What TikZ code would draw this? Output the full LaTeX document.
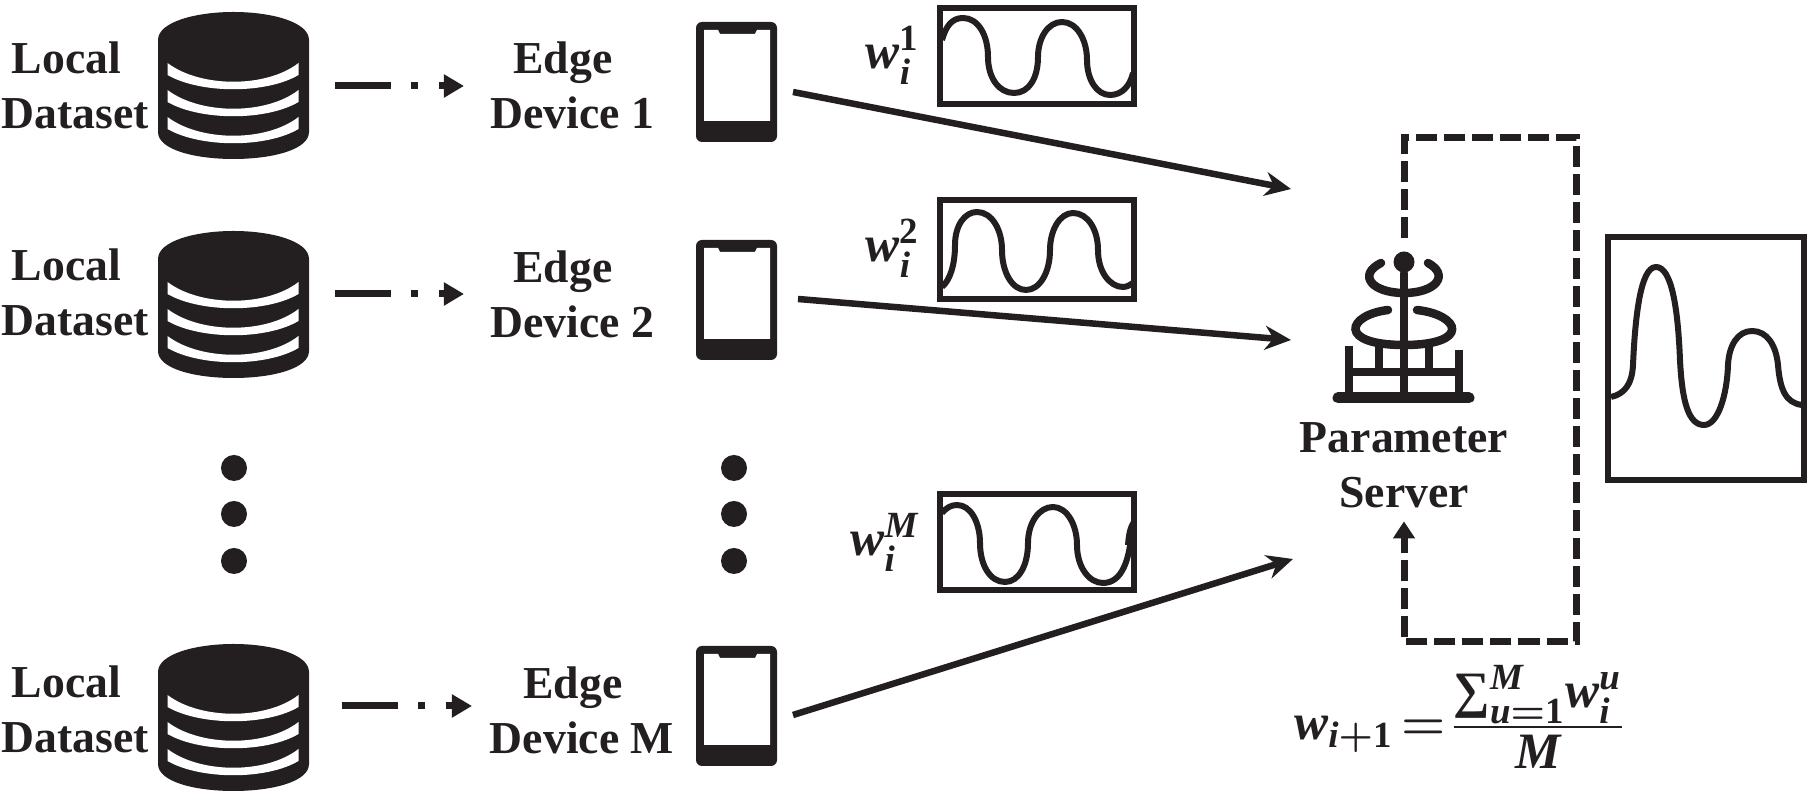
\documentclass[tikz,border=0pt]{standalone}
\usepackage{fontspec}
\usepackage{amsmath}
\setmainfont{Liberation Serif}
\usetikzlibrary{arrows.meta}
\definecolor{inkblack}{HTML}{231F20}
\DeclareMathSizes{14.5}{14.5}{10.5}{8}
\newcommand{\mvar}[1]{\text{\bfseries\itshape #1}}
\newcommand{\mnum}[1]{\text{\bfseries #1}}
\tikzset{
  lbl/.style={align=center, inner sep=0pt, text=inkblack, font=\fontsize{13}{15.6}\selectfont\bfseries},
  mathlbl/.style={inner sep=0pt, text=inkblack, font=\fontsize{14.5}{17}\selectfont\boldmath},
  wavebox/.style={draw=inkblack, line width=0.06cm},
  wavecurve/.style={draw=inkblack, line width=0.06cm, line join=round},
  flowarrow/.style={-{Stealth[length=0.26cm,width=0.24cm]}, draw=inkblack, line width=0.065cm},
  dotarrow/.style={-{Triangle[length=0.2cm,width=0.22cm]}, draw=inkblack, line width=0.07cm, dash pattern=on 0.56cm off 0.2cm on 0.07cm off 0.21cm},
  loopline/.style={-{Triangle[length=0.17cm,width=0.21cm]}, draw=inkblack, line width=0.07cm, dash pattern=on 0.21cm off 0.07cm},
  iconline/.style={draw=inkblack, line width=0.085cm, line cap=round},
  bigdot/.style={circle, fill=inkblack, minimum size=0.26cm, inner sep=0pt},
  dbicon/.pic={
    \fill[inkblack] (-75.5,28) .. controls (-75.5,10) and (-38,0) .. (0,0)
      .. controls (38,0) and (75.5,10) .. (75.5,28) -- (75.5,120)
      .. controls (75.5,138) and (38,147) .. (0,147)
      .. controls (-38,147) and (-75.5,138) .. (-75.5,120) -- cycle;
    \foreach \dy in {0,27,54}
      \fill[white] (-66,51+\dy) .. controls (-33,76+\dy) and (33,76+\dy) .. (65,51+\dy)
        -- (65,63+\dy) .. controls (33,82+\dy) and (-33,82+\dy) .. (-66,63+\dy) -- cycle;
  },
  phoneicon/.pic={
    \fill[inkblack, rounded corners=0.06cm] (0,0) rectangle (81,120);
    \fill[white] (8,8) -- (22,8) -- (24,12) -- (59,12) -- (61,8) -- (74,8) -- (74,99) -- (8,99) -- cycle;
  }
}
\begin{document}
\begin{tikzpicture}[x=0.01cm, y=-0.01cm, line join=miter]
  \useasboundingbox (0,0) rectangle (1808,792);
  % databases
  \pic at (233.5,12) {dbicon};
  \pic at (233.5,231) {dbicon};
  \pic at (233.5,644) {dbicon};
  \node[lbl] (data1) at (75,85) {Local\hspace*{0.17cm}\\Dataset};
  \node[lbl] (data2) at (75,292) {Local\hspace*{0.17cm}\\Dataset};
  \node[lbl] (dataM) at (75,709) {Local\hspace*{0.17cm}\\Dataset};
  % devices
  \node[lbl] (edge1) at (572,85) {Edge\hspace*{0.18cm}\\Device 1};
  \node[lbl] (edge2) at (572,294) {Edge\hspace*{0.18cm}\\Device 2};
  \node[lbl] (edgeM) at (582,710) {Edge\hspace*{0.18cm}\\Device M};
  \pic at (696,22) {phoneicon};
  \pic at (696,240) {phoneicon};
  \pic at (696,646) {phoneicon};
  % local data to device
  \coordinate (dbout1) at (335,86);
  \coordinate (dbout2) at (335,294);
  \coordinate (dboutM) at (342,706);
  \coordinate (edgein1) at (464,86);
  \coordinate (edgein2) at (464,294);
  \coordinate (edgeinM) at (472,706);
  \draw[dotarrow] (dbout1) -- (edgein1);
  \draw[dotarrow] (dbout2) -- (edgein2);
  \draw[dotarrow] (dboutM) -- (edgeinM);
  % ellipsis
  \node[bigdot] (dotA) at (234,468) {};
  \node[bigdot] (dotB) at (234,514) {};
  \node[bigdot] (dotC) at (234,561) {};
  \node[bigdot] (dotD) at (734,468) {};
  \node[bigdot] (dotE) at (734,514) {};
  \node[bigdot] (dotF) at (734,561) {};
  % local weights
  \node[mathlbl] (w1) at (893,55) {$\mvar{w}_{\mvar{i}}^{\mnum{1}}$};
  \node[mathlbl] (w2) at (893,248) {$\mvar{w}_{\mvar{i}}^{\mnum{2}}$};
  \node[mathlbl] (wM) at (885,542) {$\mvar{w}_{\mvar{i}}^{\mvar{M}}$};
  \draw[wavebox] (940,8) rectangle (1134,104);
  \draw[wavebox] (940,200) rectangle (1134,299);
  \draw[wavebox] (940,494) rectangle (1134,590);
  \draw[wavecurve] (942,40) .. controls (946,26) and (952,18) .. (963,18)
    .. controls (978,18) and (988,35) .. (988,57) .. controls (988,78) and (999,93) .. (1014,93)
    .. controls (1029,93) and (1038,78) .. (1038,57) .. controls (1038,38) and (1048,22) .. (1062,22)
    .. controls (1077,22) and (1087,40) .. (1087,60) .. controls (1087,80) and (1097,95) .. (1110,95)
    .. controls (1122,95) and (1130,86) .. (1133,73);
  \draw[wavecurve] (942,287) .. controls (950,280) and (955,265) .. (955,245)
    .. controls (955,225) and (965,212) .. (977,212) .. controls (992,212) and (1002,230) .. (1002,250)
    .. controls (1002,272) and (1012,290) .. (1026,290) .. controls (1040,290) and (1050,272) .. (1050,250)
    .. controls (1050,230) and (1060,213) .. (1073,213) .. controls (1088,213) and (1098,230) .. (1098,250)
    .. controls (1098,272) and (1110,287) .. (1123,287) .. controls (1127,287) and (1130,285) .. (1133,283);
  \draw[wavecurve] (942,513) .. controls (946,508) and (951,505) .. (957,505)
    .. controls (971,505) and (980,523) .. (980,543) .. controls (980,565) and (990,582) .. (1005,582)
    .. controls (1019,582) and (1028,565) .. (1028,543) .. controls (1028,523) and (1039,507) .. (1053,507)
    .. controls (1067,507) and (1077,525) .. (1077,545) .. controls (1077,567) and (1089,583) .. (1103,583)
    .. controls (1122,583) and (1130,560) .. (1132,527);
  \fill[inkblack] (1125,545) .. controls (1126,532) and (1128,523) .. (1134,518) -- (1134,545) -- cycle;
  % uploads to the server
  \coordinate (phone1) at (793,92);
  \coordinate (phone2) at (798,299);
  \coordinate (phoneM) at (793,715);
  \coordinate (srvin1) at (1291,189);
  \coordinate (srvin2) at (1291,340);
  \coordinate (srvinM) at (1293,559);
  \draw[flowarrow] (phone1) -- (srvin1);
  \draw[flowarrow] (phone2) -- (srvin2);
  \draw[flowarrow] (phoneM) -- (srvinM);
  % server tower
  \node[circle, fill=inkblack, minimum size=0.21cm, inner sep=0pt] (ball) at (1404,262) {};
  \draw[iconline] (ball) -- (1404,398);
  \draw[iconline] (1381,263) .. controls (1357,275) and (1372,293) .. (1404,293)
    .. controls (1436,293) and (1450,275) .. (1428,263);
  \draw[iconline] (1388,310) .. controls (1347,315) and (1337,345) .. (1404,345)
    .. controls (1471,345) and (1461,315) .. (1417,310);
  \draw[iconline, line cap=butt] (1349,346) -- (1349,398);
  \draw[iconline, line cap=butt] (1459,350) -- (1459,398);
  \draw[iconline, line cap=butt] (1379,345) -- (1379,372);
  \draw[iconline, line cap=butt] (1429,345) -- (1429,372);
  \draw[iconline, line cap=butt] (1349,372) -- (1459,372);
  \draw[iconline, line width=0.11cm] (1338,398) -- (1469,398);
  \node[lbl] (server) at (1404,465) {Parameter\\Server};
  % aggregation loop
  \coordinate (towertop) at (1404,238);
  \coordinate (loopcorner) at (1576,138);
  \coordinate (loopbottom) at (1576,642);
  \draw[loopline, shorten >=0.13cm] (towertop) |- (loopcorner) -- (loopbottom) -| (server.south);
  % global model
  \draw[wavebox] (1608,237) rectangle (1804,480);
  \draw[wavecurve] (1611,397) .. controls (1624,394) and (1632,385) .. (1633,365)
    .. controls (1635,320) and (1640,267) .. (1656,267) .. controls (1672,267) and (1678,310) .. (1680,360)
    .. controls (1682,400) and (1688,425) .. (1704,425) .. controls (1718,425) and (1727,395) .. (1728,365)
    .. controls (1729,345) and (1738,331) .. (1752,331) .. controls (1767,331) and (1776,345) .. (1778,365)
    .. controls (1780,390) and (1786,403) .. (1802,405);
  \node[mathlbl] (update) at (1458,717) {\thickmuskip=2.5mu\nulldelimiterspace=0pt$\mvar{w}_{\mvar{i}+\mnum{1}}=\frac{\textstyle\rule[-3pt]{0pt}{0pt}\mnum{∑}_{\mvar{u}=\mnum{1}}^{\mvar{M}}\mvar{w}_{\mvar{i}}^{\mvar{u}}}{\textstyle\rule{0pt}{11pt}\mvar{M}}$};
\end{tikzpicture}
\end{document}
